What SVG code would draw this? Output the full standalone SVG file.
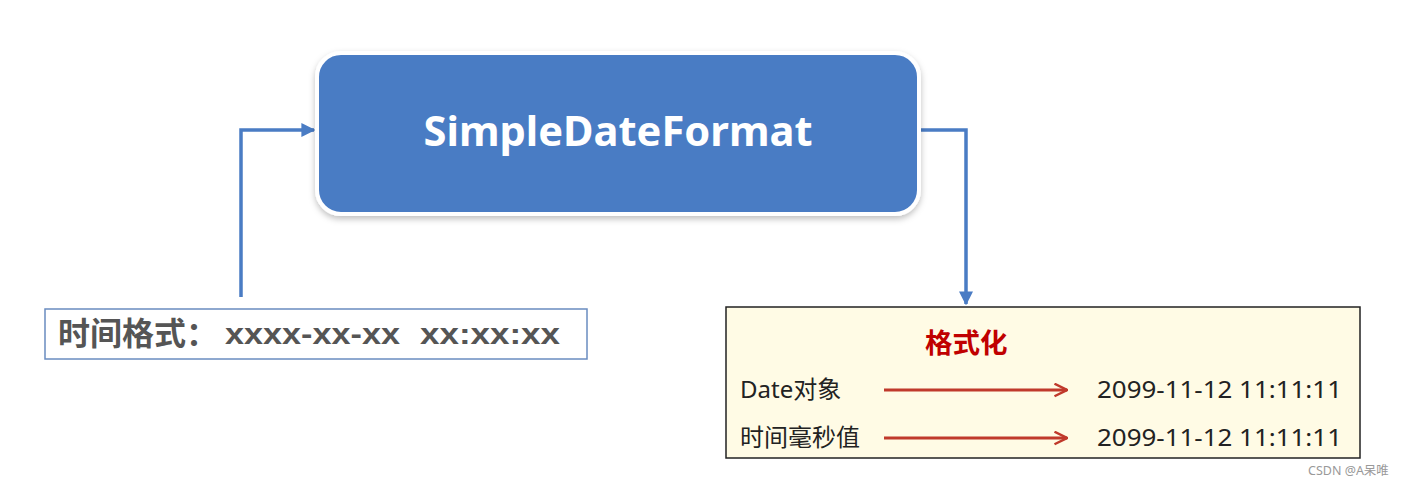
<svg xmlns="http://www.w3.org/2000/svg" width="1402" height="487" viewBox="0 0 1402 487">
<defs>
<style>
.cjk{font-family:"Noto Sans","Noto Sans CJK SC",sans-serif}
.conn{fill:none;stroke:#4a7cc4;stroke-width:3.5}
.red{stroke:#c0392b;stroke-width:3;fill:none}
.body{font-size:24px;fill:#222}
</style>
<marker id="ab" viewBox="0 0 10 10" refX="9" refY="5" markerWidth="4" markerHeight="4" orient="auto" markerUnits="strokeWidth">
<path d="M0,0 L10,5 L0,10 Z" fill="#4a7cc4"/>
</marker>
<marker id="ar" viewBox="0 0 12 12" refX="11" refY="6" markerWidth="5" markerHeight="5" orient="auto" markerUnits="strokeWidth">
<path d="M1,1 L11,6 L1,11" fill="none" stroke="#c0392b" stroke-width="2"/>
</marker>
<filter id="sh" x="-5%" y="-10%" width="110%" height="125%">
<feDropShadow dx="0" dy="3" stdDeviation="3" flood-color="#000" flood-opacity="0.25"/>
</filter>
</defs>
<rect width="1402" height="487" fill="#fff"/>
<g id="connectors">
<path class="conn" d="M241,297 V130 H314" marker-end="url(#ab)"/>
<path class="conn" d="M921,130 H966 V304" marker-end="url(#ab)"/>
</g>
<g id="simpledateformat">
<rect x="317" y="53" width="602" height="161" rx="24" fill="#4a7cc4" stroke="#fff" stroke-width="4" filter="url(#sh)"/>
<text x="618" y="146" text-anchor="middle" class="cjk" font-size="42" font-weight="bold" fill="#fff" textLength="389" lengthAdjust="spacingAndGlyphs">SimpleDateFormat</text>
</g>
<g id="time-format">
<rect x="45" y="309" width="542" height="50" fill="#fff" stroke="#6a8cc0" stroke-width="1.5"/>
<text x="58" y="345" class="cjk" font-size="32" font-weight="bold" fill="#555">时间格式：</text>
<text x="225" y="344" font-family="Liberation Sans, Arial, sans-serif" font-size="30" font-weight="bold" fill="#555" textLength="175" lengthAdjust="spacingAndGlyphs">xxxx-xx-xx</text>
<text x="420" y="344" font-family="Liberation Sans, Arial, sans-serif" font-size="30" font-weight="bold" fill="#555" textLength="140" lengthAdjust="spacingAndGlyphs">xx:xx:xx</text>
</g>
<g id="format-box">
<rect x="726" y="307" width="634" height="151" fill="#fffbe5" stroke="#222" stroke-width="1.5"/>
<text x="925" y="353" class="cjk" font-size="27.5" font-weight="bold" fill="#c00000">格式化</text>
<text x="740" y="398" class="cjk body">Date对象</text>
<text x="740" y="446" class="cjk body">时间毫秒值</text>
<text x="1097" y="398" class="cjk body" textLength="245" lengthAdjust="spacingAndGlyphs">2099-11-12 11:11:11</text>
<text x="1097" y="446" class="cjk body" textLength="245" lengthAdjust="spacingAndGlyphs">2099-11-12 11:11:11</text>
<path class="red" d="M884,390 H1067" marker-end="url(#ar)"/>
<path class="red" d="M884,438 H1067" marker-end="url(#ar)"/>
</g>
<text x="1308" y="475" class="cjk" font-size="12.5" fill="#999">CSDN @A呆唯</text>
</svg>
